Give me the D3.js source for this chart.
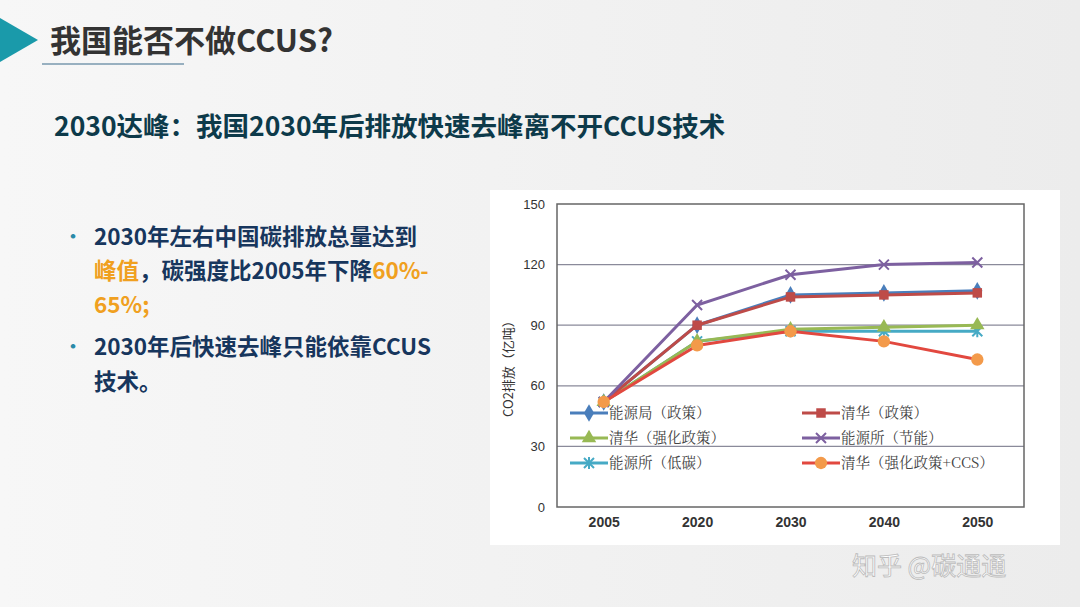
<!DOCTYPE html><html><head><meta charset="utf-8"><script src="https://cdn.jsdelivr.net/npm/d3@7"></script>
<style>body{margin:0;width:1080px;height:607px;overflow:hidden;background:linear-gradient(90deg,#f7f7f7,#ececec);font-family:"Noto Sans CJK SC","Noto Sans",sans-serif}</style></head><body>
<svg id="s" width="1080" height="607"></svg>
<script>
const years=["2005","2020","2030","2040","2050"];
const yTicks=[0,30,60,90,120,150];
const names=["能源局（政策）","清华（政策）","清华（强化政策）","能源所（节能）","能源所（低碳）","清华（强化政策+CCS）"];
const colors=["#4a7ebb","#be4b48","#98b954","#7d60a0","#46aac5","#e2483f"];
const markerColors=["#4a7ebb","#be4b48","#98b954","#7d60a0","#46aac5","#f39a4a"];
const shapes=["diamond","square","triangle","x","star","circle"];
const v0=[52,90,105,106,107];
const v1=[52,90,104,105,106];
const v2=[52,82,88,89,90];
const v3=[52,100,115,120,121];
const v4=[52,82,87,87,87];
const v5=[52,80,87,82,73];
const series=[v0,v1,v2,v3,v4,v5];
const svg=d3.select("#s");
svg.append("path").attr("d","M0,18 L38,40 L0,62Z").attr("fill","#1a9aaa");
svg.append("text").attr("x",50).attr("y",52).attr("font-size",31).attr("font-weight","bold").attr("fill","#333").text("我国能否不做CCUS?");
svg.append("line").attr("x1",42).attr("x2",184).attr("y1",64).attr("y2",64).attr("stroke","#3a6a8a").attr("stroke-width",1.2);
svg.append("text").attr("x",54).attr("y",136).attr("font-size",26.5).attr("font-weight","bold").attr("fill","#0d3a4a").text("2030达峰：我国2030年后排放快速去峰离不开CCUS技术");
const b=svg.append("g").attr("font-size",22.5).attr("font-weight","bold").attr("fill","#17365d");
[[[["2030年左右中国碳排放总量达到","#17365d"]],245,true],[[["峰值","#f0a020"],["，碳强度比2005年下降","#17365d"],["60%-","#f0a020"]],279,false],[[["65%;","#f0a020"]],313,false],[[["2030年后快速去峰只能依靠CCUS","#17365d"]],355,true],[[["技术。","#17365d"]],390,false]].forEach(([parts,y,bul])=>{
 if(bul) b.append("text").attr("x",64).attr("y",y-2).attr("fill","#2a8aa8").attr("font-size",18).text("•");
 const t=b.append("text").attr("x",94).attr("y",y);
 parts.forEach(p=>t.append("tspan").attr("fill",p[1]).text(p[0]));
});
svg.append("rect").attr("x",490).attr("y",190).attr("width",570).attr("height",355).attr("fill","#fff");
const L=557,R=1024,T=204,B=507;
const x=d3.scalePoint().domain(years).range([L,R]).padding(0.5);
const y=d3.scaleLinear().domain([0,150]).range([B,T]);
const g=svg.append("g");
g.selectAll(".gl").data(yTicks.filter(d=>d>0&&d<150)).join("line").attr("x1",L).attr("x2",R).attr("y1",d=>y(d)).attr("y2",d=>y(d)).attr("stroke","#8a8a9a").attr("stroke-width",1.2);
g.append("rect").attr("x",L).attr("y",T).attr("width",R-L).attr("height",B-T).attr("fill","none").attr("stroke","#666").attr("stroke-width",1.5);
const ya=g.append("g").attr("transform",`translate(${L},0)`).call(d3.axisLeft(y).tickValues(yTicks).tickSize(0).tickPadding(12));
ya.select(".domain").remove();ya.selectAll("text").attr("font-size",13).attr("fill","#333").attr("font-family","Liberation Sans,Arial");
const xa=g.append("g").attr("transform",`translate(0,${B})`).call(d3.axisBottom(x).tickSize(0).tickPadding(10));
xa.select(".domain").remove();xa.selectAll("text").attr("font-size",14).attr("fill","#333").attr("font-family","Liberation Sans,Arial").attr("font-weight","bold");
g.append("text").attr("transform",`translate(${L-44},${(T+B)/2+10}) rotate(-90)`).attr("text-anchor","middle").attr("font-size",13).attr("fill","#333").text("CO2排放（亿吨）");
function marker(sel,shape,c,mc){
 if(shape==="x"||shape==="star"){sel.append("path").attr("d","M-5,-5L5,5M-5,5L5,-5"+(shape==="star"?"M0,-6L0,6":"")).attr("stroke",c).attr("stroke-width",2);}
 else sel.append("path").attr("d",d3.symbol().type({diamond:d3.symbolDiamond,square:d3.symbolSquare,triangle:d3.symbolTriangle,circle:d3.symbolCircle}[shape]).size(shape==="circle"?120:90)()).attr("fill",mc);
}
const line=d3.line().x((d,i)=>x(years[i])).y(d=>y(d));
const order=[0,4,2,1,3,5];
order.forEach(k=>{
 g.append("path").attr("d",line(series[k])).attr("fill","none").attr("stroke",colors[k]).attr("stroke-width",3);
 series[k].forEach((v,i)=>marker(g.append("g").attr("transform",`translate(${x(years[i])},${y(v)})`),shapes[k],colors[k],markerColors[k]));
});
const lg=g.append("g");
names.forEach((n,k)=>{
 const cx=k%2?802:570, cy=413+Math.floor(k/2)*25;
 lg.append("line").attr("x1",cx).attr("x2",cx+38).attr("y1",cy).attr("y2",cy).attr("stroke",colors[k]).attr("stroke-width",3);
 marker(lg.append("g").attr("transform",`translate(${cx+19},${cy})`),shapes[k],colors[k],markerColors[k]);
 lg.append("text").attr("x",cx+39).attr("y",cy+5).attr("font-size",14.5).attr("fill","#444").attr("font-family","Noto Serif CJK SC,Noto Sans CJK SC").text(n);
});
svg.append("text").attr("x",852).attr("y",575).attr("font-size",25).attr("fill","#fff").attr("stroke","#bbb").attr("stroke-width",0.8).text("知乎 @碳通通");
</script></body></html>
